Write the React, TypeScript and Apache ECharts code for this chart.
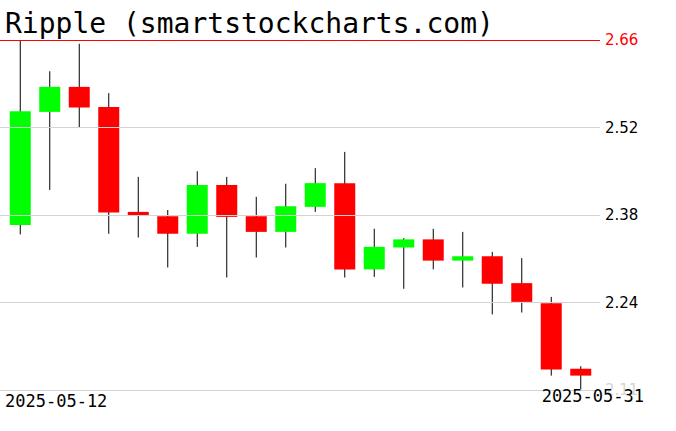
import React, { useEffect, useRef } from 'react';
import * as echarts from 'echarts';

const title = 'Ripple (smartstockcharts.com)';

const dates = [
  '2025-05-12', '2025-05-13', '2025-05-14', '2025-05-15', '2025-05-16',
  '2025-05-17', '2025-05-18', '2025-05-19', '2025-05-20', '2025-05-21',
  '2025-05-22', '2025-05-23', '2025-05-24', '2025-05-25', '2025-05-26',
  '2025-05-27', '2025-05-28', '2025-05-29', '2025-05-30', '2025-05-31',
];

// open, close, low, high
const opens = [2.364, 2.545, 2.585, 2.553, 2.385, 2.378, 2.350, 2.428, 2.378, 2.353,
  2.393, 2.431, 2.293, 2.328, 2.341, 2.307, 2.314, 2.271, 2.239, 2.134];
const closes = [2.546, 2.585, 2.552, 2.384, 2.380, 2.350, 2.428, 2.377, 2.353, 2.394,
  2.431, 2.293, 2.329, 2.341, 2.307, 2.314, 2.270, 2.241, 2.133, 2.123];
const lows = [2.349, 2.420, 2.520, 2.350, 2.344, 2.296, 2.329, 2.280, 2.312, 2.328,
  2.385, 2.280, 2.281, 2.262, 2.293, 2.264, 2.221, 2.224, 2.123, 2.101];
const highs = [2.660, 2.610, 2.654, 2.575, 2.441, 2.388, 2.450, 2.441, 2.409, 2.430,
  2.455, 2.481, 2.358, 2.343, 2.358, 2.353, 2.321, 2.311, 2.249, 2.138];

const yMin = 2.10;
const yMax = 2.66;
const yStep = 0.14;
const minLabel = '2.11';

const UP = '#00ff00';
const DOWN = '#ff0000';
const GRID = '#d3d3d3';

const App: React.FC = () => {
  const chartRef = useRef<HTMLDivElement>(null);

  useEffect(() => {
    document.body.style.margin = '0';
    if (!chartRef.current) return;
    const chart = echarts.init(chartRef.current, null, { renderer: 'svg' });

    const data = dates.map((_, i) => [i, opens[i], closes[i], lows[i], highs[i]]);

    const option = {
      animation: false,
      grid: [
        { left: 0, right: 76, top: 40, bottom: 41 },
        { left: 5.5, right: 80.5, top: 40, bottom: 41 },
      ],
      xAxis: [
        { gridIndex: 0, type: 'value', min: 0, max: 1, show: false },
        {
          gridIndex: 1,
          type: 'category',
          data: dates,
          boundaryGap: true,
          axisLine: { show: false },
          axisTick: { show: false },
          axisLabel: { show: false },
        },
      ],
      yAxis: [
        {
          gridIndex: 0,
          type: 'value',
          position: 'right',
          min: yMin,
          max: yMax,
          interval: yStep,
          z: 5,
          axisLine: { show: false },
          axisTick: { show: false },
          splitLine: {
            show: true,
            lineStyle: { color: [GRID, GRID, GRID, GRID, '#ff0000'], width: 1 },
          },
          axisLabel: {
            margin: 5,
            fontFamily: 'DejaVu Sans',
            fontSize: 15,
            padding: [0, 0, 8, 0],
            formatter: (v: number) => (Math.abs(v - yMin) < 1e-6 ? minLabel : v.toFixed(2)),
            color: (v: number) => {
              if (Math.abs(v - yMax) < 1e-6) return '#ff0000';
              if (Math.abs(v - yMin) < 1e-6) return '#d6d6d6';
              return '#000';
            },
          },
        },
        { gridIndex: 1, type: 'value', min: yMin, max: yMax, show: false },
      ],
      series: [
        {
          type: 'custom',
          xAxisIndex: 1,
          yAxisIndex: 1,
          data,
          encode: { x: 0, y: [1, 2, 3, 4] },
          renderItem: (params: any, api: any) => {
            const i = api.value(0);
            const o = api.value(1);
            const c = api.value(2);
            const l = api.value(3);
            const h = api.value(4);
            const pO = api.coord([i, o]);
            const pC = api.coord([i, c]);
            const pL = api.coord([i, l]);
            const pH = api.coord([i, h]);
            const w = 21;
            const x = pO[0];
            const top = Math.min(pO[1], pC[1]);
            const hgt = Math.max(Math.abs(pO[1] - pC[1]), 1.5);
            return {
              type: 'group',
              children: [
                {
                  type: 'line',
                  shape: { x1: x, y1: pH[1], x2: x, y2: pL[1] },
                  style: { stroke: '#000', lineWidth: 1 },
                },
                {
                  type: 'rect',
                  shape: { x: x - w / 2, y: top, width: w, height: hgt },
                  style: { fill: c >= o ? UP : DOWN },
                },
              ],
            };
          },
        },
      ],
      graphic: [
        {
          type: 'text',
          left: 5,
          top: 9,
          z: 10,
          style: { text: title, font: '28px "DejaVu Sans Mono"', fill: '#000' },
        },
        {
          type: 'text',
          left: 5,
          top: 392,
          z: 10,
          style: { text: dates[0], font: '17px "DejaVu Sans Mono"', fill: '#000' },
        },
        {
          type: 'text',
          right: 32,
          top: 387,
          z: 10,
          style: { text: dates[dates.length - 1], font: '17px "DejaVu Sans Mono"', fill: '#000' },
        },
      ],
    };

    chart.setOption(option);
    return () => {
      chart.dispose();
    };
  }, []);

  return <div ref={chartRef} style={{ width: 676, height: 431, background: '#fff' }} />;
};

export default App;
